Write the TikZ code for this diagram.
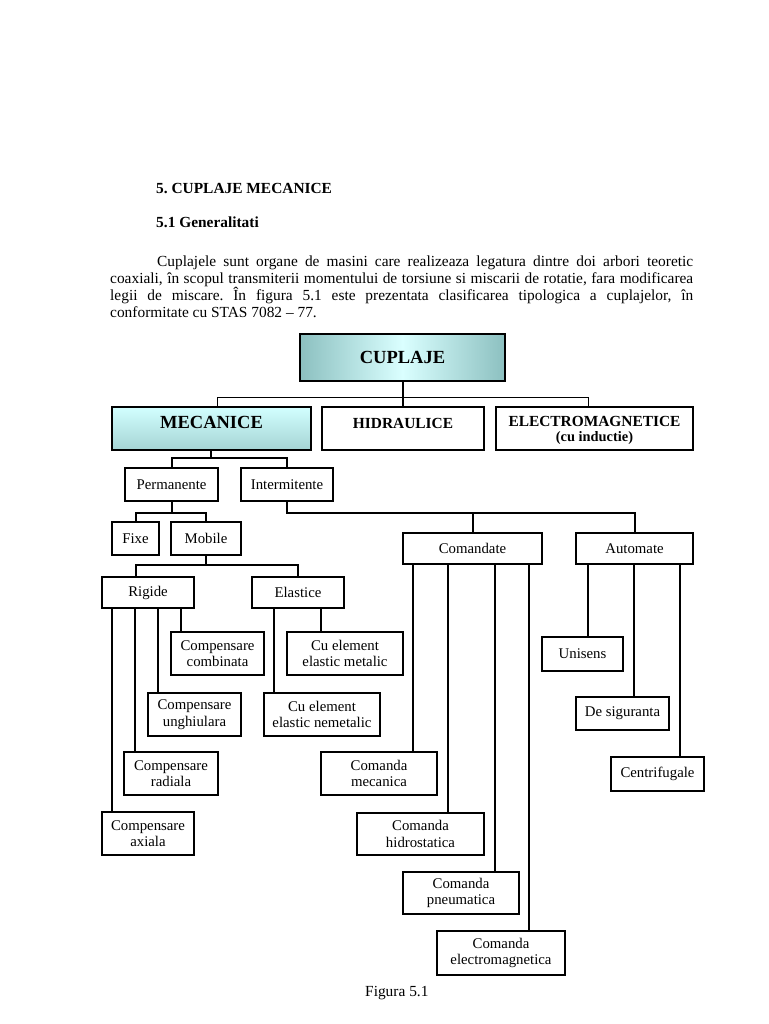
\documentclass[tikz,border=0pt]{standalone}
\usepackage{fontspec}
\setmainfont{Liberation Serif}
\frenchspacing
\definecolor{tealdark}{RGB}{140,192,192}
\definecolor{teallight}{RGB}{218,255,255}
\definecolor{mectop}{RGB}{210,255,255}
\definecolor{mecbot}{RGB}{165,212,212}
\newcommand\bdfont{\fontsize{15.4}{17}\selectfont}
\newcommand\bxfont{\fontsize{14.8}{16.5}\selectfont}
\begin{document}
\begin{tikzpicture}[x=1pt,y=-1pt,
  box/.style={draw=black, line width=1.9pt, fill=white, inner sep=0pt, align=center, font=\bxfont},
  hbox/.style={box, font=\fontsize{15.4}{15.3}\selectfont\bfseries},
  bigbox/.style={box, font=\fontsize{18.5}{20}\selectfont\bfseries},
  link/.style={line width=1.9pt},
  thinlink/.style={line width=0.9pt},
  txt/.style={anchor=base west, inner sep=0pt, font=\bdfont}]
\useasboundingbox[fill=white] (0,0) rectangle (768,1024);

% ---- text ----
\node[txt, font=\bdfont\bfseries] (h1) at (156,194) {5. CUPLAJE MECANICE};
\node[txt, font=\bdfont\bfseries] (h2) at (156,227) {5.1 Generalitati};
\node[txt] (p1) at (157,266) {\makebox[536pt][s]{Cuplajele sunt organe de masini care realizeaza legatura dintre doi arbori teoretic}};
\node[txt] (p2) at (110,283) {\makebox[583pt][s]{coaxiali, în scopul transmiterii momentului de torsiune si miscarii de rotatie, fara modificarea}};
\node[txt] (p3) at (110,300) {\makebox[583pt][s]{legii de miscare. În figura 5.1 este prezentata clasificarea tipologica a cuplajelor, în}};
\node[txt] (p4) at (110,317) {conformitate cu STAS 7082 – 77.};
\node[txt] (fig) at (365,996) {Figura 5.1};

% ---- boxes ----
\node[bigbox, left color=tealdark, right color=tealdark, middle color=teallight,
      minimum width=205pt, minimum height=47pt] (cuplaje) at (402.5,357.5) {CUPLAJE};
\node[bigbox, top color=mectop, bottom color=mecbot, minimum width=199pt, minimum height=43pt,
      text height=8pt, text depth=8pt] (mecanice) at (211.5,428.5) {MECANICE};
\node[hbox, minimum width=162pt, minimum height=43pt, text height=8pt, text depth=8pt] (hidraulice) at (403,428.5) {HIDRAULICE};
\node[hbox, minimum width=197pt, minimum height=43pt] (electro) at (594.5,428.5)
  {\rule{0pt}{14pt}ELECTROMAGNETICE\\{\fontsize{14.4}{15}\selectfont(cu inductie)}};

\node[box, minimum width=93pt, minimum height=33pt] (permanente) at (171.5,484.5) {Permanente};
\node[box, minimum width=92pt, minimum height=33pt] (intermitente) at (287,484.5) {Intermitente};
\node[box, minimum width=47pt, minimum height=33pt] (fixe) at (135.5,538.5) {Fixe};
\node[box, minimum width=70pt, minimum height=33pt] (mobile) at (206,538.5) {Mobile};
\node[box, minimum width=92pt, minimum height=31pt] (rigide) at (148,592.5) {Rigide};
\node[box, minimum width=92pt, minimum height=31pt] (elastice) at (298,592.5) {Elastice};

\node[box, minimum width=93pt, minimum height=43pt] (combinata) at (217.5,653.5) {Compensare\\combinata};
\node[box, minimum width=116pt, minimum height=43pt] (metalic) at (345,653.5) {Cu element\\elastic metalic};
\node[box, minimum width=93pt, minimum height=43pt] (unghiulara) at (194.5,714.5) {Compensare\\unghiulara};
\node[box, minimum width=116pt, minimum height=43pt] (nemetalic) at (322,714.5) {Cu element\\elastic nemetalic};
\node[box, minimum width=94pt, minimum height=43pt] (radiala) at (171,773.5) {Compensare\\radiala};
\node[box, minimum width=92pt, minimum height=43pt] (axiala) at (148,833.5) {Compensare\\axiala};

\node[box, minimum width=139pt, minimum height=31pt] (comandate) at (472.5,548.5) {Comandate};
\node[box, minimum width=117pt, minimum height=31pt] (automate) at (634.5,548.5) {Automate};
\node[box, minimum width=116pt, minimum height=43pt] (mecanica) at (379,773.5) {Comanda\\mecanica};
\node[box, minimum width=127pt, minimum height=42pt] (hidrostatica) at (420.5,834) {Comanda\\hidrostatica};
\node[box, minimum width=116pt, minimum height=42pt] (pneumatica) at (461,893) {Comanda\\pneumatica};
\node[box, minimum width=128pt, minimum height=44pt] (electromag) at (501,953) {Comanda\\electromagnetica};
\node[box, minimum width=81pt, minimum height=34pt] (unisens) at (582.5,654) {Unisens};
\node[box, minimum width=93pt, minimum height=33pt] (siguranta) at (622.5,713.5) {De siguranta};
\node[box, minimum width=93pt, minimum height=34pt] (centrifugale) at (657.5,774) {Centrifugale};

% ---- connectors ----
\coordinate (cs) at ([xshift=0.5pt]cuplaje.south);
\draw[link] (cs) -- (cs |- hidraulice.north);
\coordinate (t1) at (217,397.5);
\coordinate (t2) at (588,397.5);
\draw[thinlink] (t1 |- mecanice.north) -- (t1) -- (t2) -- (t2 |- electro.north);

\coordinate (ms) at ([xshift=-0.5pt]mecanice.south);
\coordinate (pn) at ([xshift=0.5pt]permanente.north);
\coordinate (j1) at (211,458);
\draw[link] (ms) -- (j1);
\draw[link] (pn) |- (j1) -| (intermitente.north);

\coordinate (ps) at ([xshift=0.5pt]permanente.south);
\coordinate (fn) at ([xshift=0.5pt]fixe.north);
\coordinate (j2) at (172,513);
\draw[link] (ps) -- (j2);
\draw[link] (fn) |- (j2) -| (mobile.north);

\coordinate (j3) at (206,565);
\coordinate (rj) at ([xshift=-12pt]rigide.north);
\draw[link] (mobile.south) -- (j3);
\draw[link] (rj) |- (j3) -| (elastice.north);

\coordinate (j4) at (287,513);
\coordinate (an) at ([xshift=0.5pt]automate.north);
\coordinate (cn) at ([xshift=0.5pt]comandate.north);
\draw[link] (intermitente.south) -- (j4) -| (an);
\draw[link] (cn) -- (cn |- j4);

% rigide children
\coordinate (ra) at ([xshift=11pt]axiala.north west);
\coordinate (rr) at ([xshift=12pt]radiala.north west);
\coordinate (ru) at ([xshift=11pt]unghiulara.north west);
\coordinate (rc) at ([xshift=11pt]combinata.north west);
\draw[link] (ra) -- (ra |- rigide.south);
\draw[link] (rr) -- (rr |- rigide.south);
\draw[link] (ru) -- (ru |- rigide.south);
\draw[link] (rc) -- (rc |- rigide.south);

% elastice children
\coordinate (en) at ([xshift=11pt]nemetalic.north west);
\coordinate (em) at ([xshift=35pt]metalic.north west);
\draw[link] (en) -- (en |- elastice.south);
\draw[link] (em) -- (em |- elastice.south);

% comandate children
\coordinate (c1) at ([xshift=11pt]comandate.south west);
\coordinate (c2) at ([xshift=46pt]comandate.south west);
\coordinate (c3) at ([xshift=93pt]comandate.south west);
\coordinate (c4) at ([xshift=127pt]comandate.south west);
\draw[link] (c1) -- (c1 |- mecanica.north);
\draw[link] (c2) -- (c2 |- hidrostatica.north);
\draw[link] (c3) -- (c3 |- pneumatica.north);
\draw[link] (c4) -- (c4 |- electromag.north);

% automate children
\coordinate (a1) at ([xshift=13pt]automate.south west);
\coordinate (a2) at ([xshift=59pt]automate.south west);
\coordinate (a3) at ([xshift=105pt]automate.south west);
\draw[link] (a1) -- (a1 |- unisens.north);
\draw[link] (a2) -- (a2 |- siguranta.north);
\draw[link] (a3) -- (a3 |- centrifugale.north);
\end{tikzpicture}
\end{document}
